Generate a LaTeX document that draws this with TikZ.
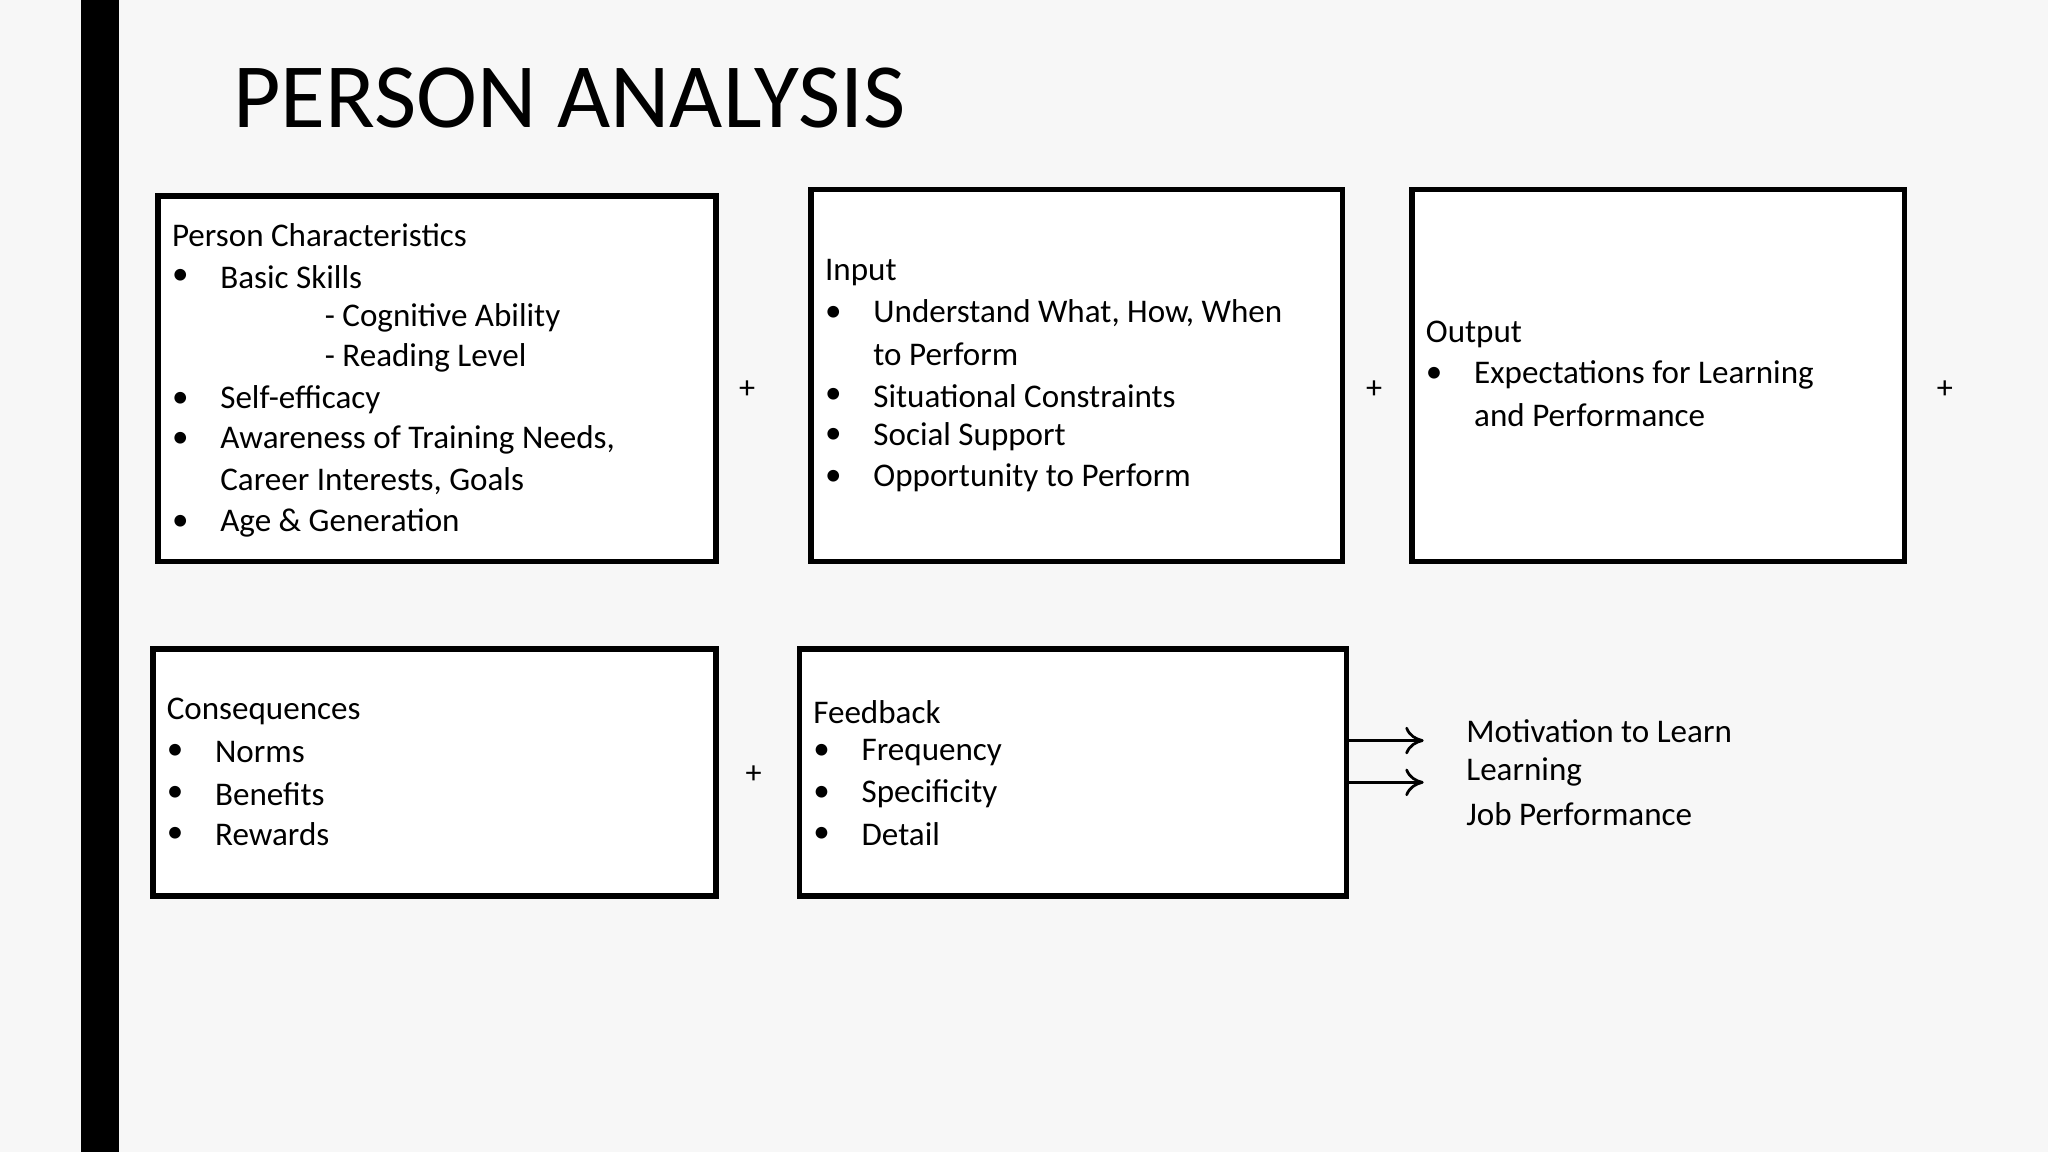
\documentclass[tikz,border=0pt]{standalone}
\usepackage{fontspec}
\setmainfont{Carlito}
\usetikzlibrary{arrows.meta}
\definecolor{bg}{HTML}{F7F7F7}
\begin{document}
\begin{tikzpicture}[x=0.01cm,y=-0.01cm,
  box/.style={draw=black,line width=1.2pt,fill=white},
  txt/.style={anchor=west,inner sep=0pt,font=\fontsize{7.2}{8}\selectfont},
  plus/.style={inner sep=0pt,font=\fontsize{7}{8}\selectfont},
  arr/.style={-{To[length=4pt,width=6pt]},line width=0.6pt}]
\fill[bg] (0,0) rectangle (1568,882);
\useasboundingbox (0,0) rectangle (1568,882);
\fill[black] (62,0) rectangle (91,882);
\node[anchor=west,inner sep=0pt,font=\fontsize{20}{22}\selectfont] (title) at (178,75) {PERSON ANALYSIS};
\draw[box] (121,150) rectangle (548,430);
\draw[box] (621,145) rectangle (1028,430);
\draw[box] (1081,145) rectangle (1458,430);
\draw[box] (117,497) rectangle (548,686);
\draw[box] (612,497) rectangle (1031,686);
% box 1
\node[txt] (a0) at (131,180) {Person Characteristics};
\foreach \y/\t/\n in {212/Basic Skills/a1,306/Self-efficacy/a2,337/{Awareness of Training Needs,}/a3,400/Age \& Generation/a4}{
  \node[txt] (\n b) at (131,\y) {•}; \node[txt] (\n) at (168,\y) {\t};}
\node[txt] (a5) at (168,368) {Career Interests, Goals};
\node[txt] (a6) at (248,243) {- Cognitive Ability};
\node[txt] (a7) at (248,274) {- Reading Level};
% box 2
\node[txt] (b0) at (631,209) {Input};
\foreach \y/\t/\n in {240/{Understand What, How, When}/b1,303/Situational Constraints/b2,334/Social Support/b3,366/Opportunity to Perform/b4}{
  \node[txt] (\n b) at (631,\y) {•}; \node[txt] (\n) at (668,\y) {\t};}
\node[txt] (b5) at (668,271) {to Perform};
% box 3
\node[txt] (c0) at (1091,256) {Output};
\node[txt] (c1b) at (1091,287) {•};
\node[txt] (c1) at (1128,287) {Expectations for Learning};
\node[txt] (c2) at (1128,318) {and Performance};
% box 4
\node[txt] (d0) at (127,545) {Consequences};
\foreach \y/\t/\n in {576/Norms/d1,608/Benefits/d2,639/Rewards/d3}{
  \node[txt] (\n b) at (127,\y) {•}; \node[txt] (\n) at (164,\y) {\t};}
% box 5
\node[txt] (e0) at (622,545) {Feedback};
\foreach \y/\t/\n in {576/Frequency/e1,608/Specificity/e2,639/Detail/e3}{
  \node[txt] (\n b) at (622,\y) {•}; \node[txt] (\n) at (659,\y) {\t};}
% outcomes
\node[txt] (f1) at (1122,560) {Motivation to Learn};
\node[txt] (f2) at (1122,591) {Learning};
\node[txt] (f3) at (1122,623) {Job Performance};
\foreach \x/\y/\n in {572/298/p1,1052/298/p2,1489/298/p3,577/593/p4}{\node[plus] (\n) at (\x,\y) {+};}
\coordinate (s1) at (1031,567); \coordinate (t1) at (1090,567);
\coordinate (s2) at (1031,599); \coordinate (t2) at (1090,599);
\draw[arr] (s1) -- (t1);
\draw[arr] (s2) -- (t2);
\end{tikzpicture}
\end{document}
